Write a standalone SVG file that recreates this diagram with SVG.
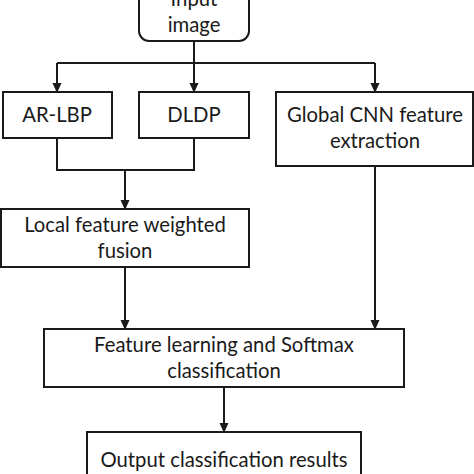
<svg xmlns="http://www.w3.org/2000/svg" width="474" height="474" viewBox="0 0 474 474">
<style>
.box{fill:#fff;stroke:#1a1a1a;stroke-width:2}
.t{font-family:Lato,"Open Sans",sans-serif;font-size:20.3px;fill:#1a1a1a;text-anchor:middle}
.c{fill:none;stroke:#1a1a1a;stroke-width:2}
</style>
<defs>
<marker id="ah" markerWidth="10" markerHeight="10" refX="9" refY="5" orient="auto" markerUnits="userSpaceOnUse">
<path d="M0,0.5 L10,5 L0,9.5 Z" fill="#1a1a1a"/>
</marker>
</defs>
<rect width="474" height="474" fill="#fff"/>
<g id="connectors">
<path class="c" d="M194,41 V92" marker-end="url(#ah)"/>
<path class="c" d="M57,63 H375"/>
<path class="c" d="M57,63 V92" marker-end="url(#ah)"/>
<path class="c" d="M375,63 V92" marker-end="url(#ah)"/>
<path class="c" d="M57,138 V170 H194 V138"/>
<path class="c" d="M125,170 V209" marker-end="url(#ah)"/>
<path class="c" d="M125,267 V329" marker-end="url(#ah)"/>
<path class="c" d="M375,166 V329" marker-end="url(#ah)"/>
<path class="c" d="M224,387 V432" marker-end="url(#ah)"/>
</g>
<g id="input">
<rect class="box" x="139" y="-20" width="110" height="61" rx="10"/>
<text class="t" x="194" y="6">Input</text>
<text class="t" x="194" y="32">image</text>
</g>
<g id="arlbp">
<rect class="box" x="3" y="92" width="109" height="46"/>
<text class="t" x="57" y="122">AR-LBP</text>
</g>
<g id="dldp">
<rect class="box" x="139" y="92" width="110" height="46"/>
<text class="t" x="194" y="122">DLDP</text>
</g>
<g id="global">
<rect class="box" x="276" y="92" width="197" height="74"/>
<text class="t" x="375" y="122">Global CNN feature</text>
<text class="t" x="375" y="148">extraction</text>
</g>
<g id="local">
<rect class="box" x="1" y="209" width="248" height="58"/>
<text class="t" x="125" y="232">Local feature weighted</text>
<text class="t" x="125" y="258">fusion</text>
</g>
<g id="softmax">
<rect class="box" x="44" y="329" width="360" height="58"/>
<text class="t" x="224" y="352">Feature learning and Softmax</text>
<text class="t" x="224" y="378">classification</text>
</g>
<g id="output">
<rect class="box" x="87" y="432" width="274" height="60"/>
<text class="t" x="224" y="467">Output classification results</text>
</g>
</svg>
